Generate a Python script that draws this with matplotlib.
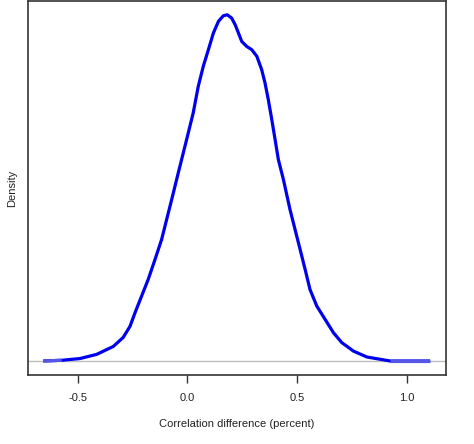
import matplotlib
matplotlib.use("Agg")
import matplotlib.pyplot as plt

plt.rcParams["font.family"] = ["Liberation Sans", "DejaVu Sans"]

# density curve (x in percent, y = density)
diff_x = [-0.656, -0.572, -0.489, -0.413, -0.337, -0.292, -0.261, -0.238,
          -0.208, -0.178, -0.147, -0.117, -0.094, -0.071, -0.041, -0.003,
          0.027, 0.050, 0.073, 0.096, 0.119, 0.142, 0.164, 0.182, 0.202,
          0.218, 0.233, 0.248, 0.271, 0.294, 0.317, 0.339, 0.354, 0.369,
          0.385, 0.400, 0.415, 0.438, 0.468, 0.491, 0.514, 0.537, 0.559,
          0.590, 0.628, 0.666, 0.704, 0.757, 0.818, 0.878, 0.924, 1.106]
density = [0.002, 0.006, 0.016, 0.040, 0.086, 0.138, 0.202, 0.281,
           0.377, 0.473, 0.588, 0.703, 0.819, 0.934, 1.088, 1.280,
           1.434, 1.587, 1.703, 1.798, 1.895, 1.962, 1.994, 2.000, 1.981,
           1.943, 1.895, 1.846, 1.817, 1.798, 1.760, 1.683, 1.607, 1.511,
           1.395, 1.280, 1.164, 1.049, 0.876, 0.761, 0.646, 0.530, 0.415,
           0.319, 0.242, 0.165, 0.108, 0.059, 0.025, 0.012, 0.002, 0.002]
tick_vals = [-0.5, 0.0, 0.5, 1.0]
tick_labels = ["-0.5", "0.0", "0.5", "1.0"]

fig = plt.figure(figsize=(4.74, 4.44), dpi=100, facecolor="white")
ax = fig.add_axes([0.059, 0.155, 0.882, 0.843])

ax.axhline(0, color="#BEBEBE", lw=1.0, zorder=1)
ax.plot(diff_x, density, color="#0000EE", lw=2.3, zorder=2,
        solid_joinstyle="round", solid_capstyle="butt")
# lighter flat tails where the curve sits on the baseline
ax.plot(diff_x[:2], density[:2], color="#5555E6", lw=2.3, zorder=3,
        solid_capstyle="butt")
ax.plot(diff_x[-2:], density[-2:], color="#5555E6", lw=2.3, zorder=3,
        solid_capstyle="butt")

ax.set_xlim(-0.726, 1.179)
ymax = max(density)
ax.set_ylim(-0.04 * ymax, 1.04 * ymax)

ax.set_xticks(tick_vals)
ax.set_xticklabels(tick_labels)
ax.set_yticks([])
ax.tick_params(axis="x", length=6, width=1, color="#333333", labelsize=8,
               pad=7, labelcolor="#222222")
for s in ax.spines.values():
    s.set_color("#333333")
    s.set_linewidth(1.2)

ax.set_xlabel("Correlation difference (percent)", fontsize=8, color="#222222",
              labelpad=11)
ax.set_ylabel("Density", fontsize=8, color="#222222", labelpad=8)

fig.savefig("out.png", dpi=100, facecolor="white")
